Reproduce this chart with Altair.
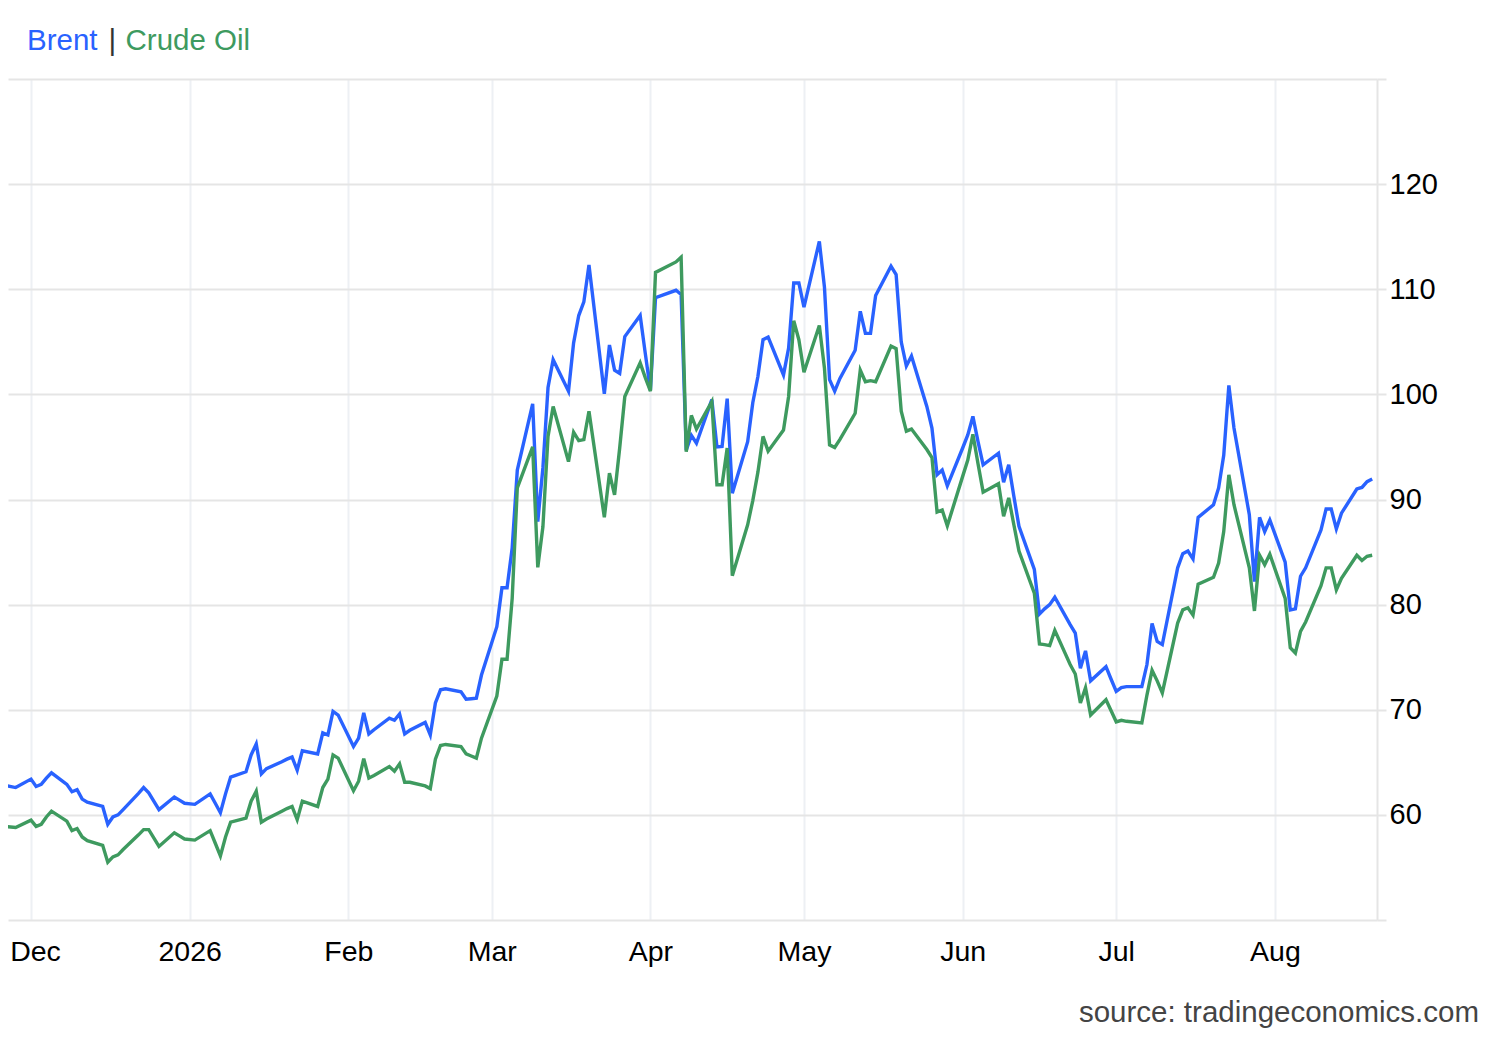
import altair as alt
import pandas as pd

# ---------------- data ----------------
DATES = [
    "2025-11-24", "2025-11-25", "2025-11-26", "2025-11-28",
    "2025-12-01", "2025-12-02", "2025-12-03", "2025-12-04", "2025-12-05",
    "2025-12-08", "2025-12-09", "2025-12-10", "2025-12-11", "2025-12-12",
    "2025-12-15", "2025-12-16", "2025-12-17", "2025-12-18", "2025-12-19",
    "2025-12-22", "2025-12-23", "2025-12-24", "2025-12-26",
    "2025-12-29", "2025-12-30", "2025-12-31", "2026-01-02",
    "2026-01-05", "2026-01-06", "2026-01-07", "2026-01-08", "2026-01-09",
    "2026-01-12", "2026-01-13", "2026-01-14", "2026-01-15", "2026-01-16",
    "2026-01-19", "2026-01-20", "2026-01-21", "2026-01-22", "2026-01-23",
    "2026-01-26", "2026-01-27", "2026-01-28", "2026-01-29", "2026-01-30",
    "2026-02-02", "2026-02-03", "2026-02-04", "2026-02-05", "2026-02-06",
    "2026-02-09", "2026-02-10", "2026-02-11", "2026-02-12", "2026-02-13",
    "2026-02-16", "2026-02-17", "2026-02-18", "2026-02-19", "2026-02-20",
    "2026-02-23", "2026-02-24", "2026-02-25", "2026-02-26", "2026-02-27",
    "2026-03-02", "2026-03-03", "2026-03-04", "2026-03-05", "2026-03-06",
    "2026-03-09", "2026-03-10", "2026-03-11", "2026-03-12", "2026-03-13",
    "2026-03-16", "2026-03-17", "2026-03-18", "2026-03-19", "2026-03-20",
    "2026-03-23", "2026-03-24", "2026-03-25", "2026-03-26", "2026-03-27",
    "2026-03-30", "2026-03-31", "2026-04-01", "2026-04-02",
    "2026-04-06", "2026-04-07", "2026-04-08", "2026-04-09", "2026-04-10",
    "2026-04-13", "2026-04-14", "2026-04-15", "2026-04-16", "2026-04-17",
    "2026-04-20", "2026-04-21", "2026-04-22", "2026-04-23", "2026-04-24",
    "2026-04-27", "2026-04-28", "2026-04-29", "2026-04-30", "2026-05-01",
    "2026-05-04", "2026-05-05", "2026-05-06", "2026-05-07", "2026-05-08",
    "2026-05-11", "2026-05-12", "2026-05-13", "2026-05-14", "2026-05-15",
    "2026-05-18", "2026-05-19", "2026-05-20", "2026-05-21", "2026-05-22",
    "2026-05-25", "2026-05-26", "2026-05-27", "2026-05-28", "2026-05-29",
    "2026-06-01", "2026-06-02", "2026-06-03", "2026-06-04", "2026-06-05",
    "2026-06-08", "2026-06-09", "2026-06-10", "2026-06-11", "2026-06-12",
    "2026-06-15", "2026-06-16", "2026-06-17", "2026-06-18", "2026-06-19",
    "2026-06-22", "2026-06-23", "2026-06-24", "2026-06-25", "2026-06-26",
    "2026-06-29", "2026-06-30", "2026-07-01", "2026-07-02", "2026-07-03",
    "2026-07-06", "2026-07-07", "2026-07-08", "2026-07-09", "2026-07-10",
    "2026-07-13", "2026-07-14", "2026-07-15", "2026-07-16", "2026-07-17",
    "2026-07-20", "2026-07-21", "2026-07-22", "2026-07-23", "2026-07-24",
    "2026-07-27", "2026-07-28", "2026-07-29", "2026-07-30", "2026-07-31",
    "2026-08-03", "2026-08-04", "2026-08-05", "2026-08-06", "2026-08-07",
    "2026-08-10", "2026-08-11", "2026-08-12", "2026-08-13", "2026-08-14",
    "2026-08-17", "2026-08-18", "2026-08-19", "2026-08-20",
]

BRENT = [
    62.3, 61.9, 62.8, 62.6,
    63.4, 62.7, 62.9, 63.5, 64.0,
    62.9, 62.2, 62.4, 61.5, 61.2,
    60.8, 59.1, 59.8, 60.0, 60.5,
    62.05, 62.6, 62.1, 60.5,
    61.7, 61.4, 61.1, 61.0,
    62.0, 61.1, 60.2, 62.0, 63.6,
    64.1, 65.7, 66.75, 63.9, 64.4,
    65.05, 65.3, 65.5, 64.25, 66.1,
    65.8, 67.8, 67.6, 69.85, 69.5,
    66.5, 67.3, 69.7, 67.7, 68.1,
    69.2, 69.0, 69.6, 67.7, 68.05,
    68.8, 67.6, 70.65, 71.9, 72.0,
    71.7, 71.0, 71.05, 71.1, 73.3,
    77.9, 81.6, 81.6, 85.4, 92.8,
    99.1, 87.9, 93.0, 100.65, 103.3,
    100.3, 104.9, 107.5, 108.8, 112.3,
    100.05, 104.7, 102.3, 102.0, 105.5,
    107.5, 103.9, 100.4, 109.2,
    109.9, 109.5, 94.7, 96.1, 95.35,
    99.5, 95.0, 95.05, 99.6, 90.6,
    95.5, 99.2, 101.7, 105.2, 105.45,
    101.85, 104.4, 110.6, 110.6, 108.3,
    114.55, 110.2, 101.4, 100.3, 101.5,
    104.2, 107.9, 105.8, 105.8, 109.4,
    112.2, 111.4, 105.0, 102.7, 103.65,
    98.85, 96.8, 92.35, 92.8, 91.3,
    94.9, 96.15, 97.9, 95.5, 93.3,
    94.4, 91.65, 93.3, 90.3, 87.45,
    83.35, 79.1, 79.6, 80.0, 80.7,
    78.1, 77.3, 73.95, 75.6, 72.75,
    74.1, 72.9, 71.75, 72.1, 72.2,
    72.2, 74.3, 78.2, 76.5, 76.2,
    83.5, 84.85, 85.1, 84.35, 88.3,
    89.5, 91.1, 94.2, 100.85, 96.8,
    88.55, 82.2, 88.3, 86.95, 88.05,
    84.05, 79.5, 79.6, 82.7, 83.5,
    87.1, 89.1, 89.1, 87.2, 88.7,
    91.0, 91.15, 91.7, 91.95,
]

CRUDE = [
    58.6, 58.2, 58.9, 58.8,
    59.5, 58.9, 59.1, 59.8, 60.35,
    59.4, 58.5, 58.7, 57.9, 57.55,
    57.1, 55.5, 56.0, 56.2, 56.7,
    58.1, 58.6, 58.6, 57.0,
    58.3, 58.0, 57.7, 57.6,
    58.5, 57.3, 56.1, 57.9, 59.3,
    59.7, 61.3, 62.25, 59.3, 59.6,
    60.35, 60.6, 60.8, 59.55, 61.3,
    60.8, 62.6, 63.4, 65.7, 65.4,
    62.3, 63.2, 65.35, 63.5, 63.75,
    64.6, 64.15, 64.85, 63.1, 63.1,
    62.75, 62.5, 65.3, 66.6, 66.7,
    66.5, 65.8, 65.6, 65.4, 67.3,
    71.3, 74.8, 74.8, 80.6, 91.1,
    95.0, 83.55, 87.4, 96.0, 98.85,
    93.6, 96.4, 95.6, 95.7, 98.4,
    88.3, 92.5, 90.45, 94.9, 99.8,
    103.0, 101.6, 100.3, 111.6,
    112.6, 113.05, 94.55, 98.0, 96.7,
    99.3, 91.4, 91.4, 94.9, 82.75,
    87.6, 89.9, 92.6, 96.0, 94.6,
    96.6, 99.8, 107.0, 105.2, 102.1,
    106.55, 102.5, 95.2, 94.95, 95.7,
    98.2, 102.3, 101.2, 101.3, 101.2,
    104.6, 104.35, 98.4, 96.5, 96.7,
    94.75, 94.0, 88.8, 89.0, 87.5,
    92.2, 93.75, 96.2, 93.4, 90.7,
    91.5, 88.4, 90.15, 87.6, 85.1,
    81.1, 76.25, 76.2, 76.1, 77.55,
    74.3, 73.4, 70.65, 72.1, 69.5,
    70.95, 69.9, 68.85, 69.0, 68.9,
    68.75, 71.4, 73.75, 72.75, 71.6,
    78.25, 79.5, 79.7, 79.0, 81.95,
    82.6, 83.95, 86.95, 92.35, 89.5,
    83.5, 79.4, 84.7, 83.8, 84.8,
    80.6, 75.9, 75.4, 77.45, 78.35,
    81.8, 83.5, 83.5, 81.4, 82.5,
    84.7, 84.2, 84.6, 84.7,
]

SERIES = ["Brent", "Crude Oil"]
COLORS = ["#2962ff", "#3e9a5f"]
MONTH_TICKS = ["2025-12-01", "2026-01-01", "2026-02-01", "2026-03-01", "2026-04-01",
               "2026-05-01", "2026-06-01", "2026-07-01", "2026-08-01"]
Y_TICKS = [50, 60, 70, 80, 90, 100, 110, 120, 130]
Y_DOMAIN = [50, 130]
X_DOMAIN = ["2025-11-26T12:10:00", "2026-08-20T22:34:00"]
SOURCE = "source: tradingeconomics.com"

FONT = "Liberation Sans"


def ms(s):
    return int(pd.Timestamp(s, tz="UTC").value // 10**6)


df = pd.DataFrame({
    "date": DATES * 2,
    "value": BRENT + CRUDE,
    "series": [SERIES[0]] * len(DATES) + [SERIES[1]] * len(DATES),
})

x_enc = alt.X(
    "date:T",
    scale=alt.Scale(type="utc", domain=[ms(X_DOMAIN[0]), ms(X_DOMAIN[1])], nice=False),
    axis=alt.Axis(
        values=[ms(t) for t in MONTH_TICKS],
        labelExpr="utcFormat(datum.value, '%m') == '01' ? utcFormat(datum.value, '%Y') : utcFormat(datum.value, '%b')",
        labelOffset={"condition": {"test": "utcmonth(datum.value) == 11", "value": 4}, "value": 0},
        title=None,
        grid=True,
        gridColor="#edf0f4",
        gridWidth=2,
        domain=False,
        ticks=False,
        tickSize=0,
        labelPadding=17,
        labelFontSize=28.5,
        labelFont=FONT,
        labelColor="#000000",
        labelFlush=False,
        labelOverlap=False,
    ),
)

y_enc = alt.Y(
    "value:Q",
    scale=alt.Scale(domain=Y_DOMAIN, nice=False, zero=False),
    axis=alt.Axis(
        orient="right",
        values=Y_TICKS,
        labelExpr="datum.value < 55 || datum.value > 125 ? '' : datum.label",
        title=None,
        grid=True,
        gridColor="#e5e5e5",
        gridWidth=2,
        domain=True,
        domainColor="#e5e5e5",
        domainWidth=2,
        ticks=True,
        tickColor="#e5e5e5",
        tickWidth=2,
        tickSize=9,
        labelPadding=3,
        labelFontSize=29,
        labelFont=FONT,
        labelColor="#000000",
        labelFlush=False,
    ),
)

base = alt.Chart(df).encode(x=x_enc, y=y_enc)

brent_line = base.transform_filter(alt.datum.series == SERIES[0]).mark_line(
    color=COLORS[0], strokeWidth=3.4, clip=True
)
crude_line = base.transform_filter(alt.datum.series == SERIES[1]).mark_line(
    color=COLORS[1], strokeWidth=3.4, clip=True
)

t1 = alt.Chart(pd.DataFrame({"t": [SERIES[0]]})).mark_text(
    align="left", baseline="alphabetic", font=FONT, fontSize=29.5, color=COLORS[0]
).encode(text="t:N", x=alt.value(19), y=alt.value(-29))
t2 = alt.Chart(pd.DataFrame({"t": ["|"]})).mark_text(
    align="left", baseline="alphabetic", font=FONT, fontSize=29.5, color="#333333"
).encode(text="t:N", x=alt.value(100.5), y=alt.value(-29))
t3 = alt.Chart(pd.DataFrame({"t": [SERIES[1]]})).mark_text(
    align="left", baseline="alphabetic", font=FONT, fontSize=29.5, color=COLORS[1]
).encode(text="t:N", x=alt.value(117.5), y=alt.value(-29))
src = alt.Chart(pd.DataFrame({"t": [SOURCE]})).mark_text(
    align="right", baseline="alphabetic", font=FONT, fontSize=29.5, color="#444444"
).encode(text="t:N", x=alt.value(1471), y=alt.value(943))

chart = alt.layer(brent_line, crude_line, t1, t2, t3, src).properties(
    width=1369,
    height=841,
    autosize=alt.AutoSizeParams(type="none"),
    padding={"left": 0, "top": 71, "right": 115, "bottom": 108},
    background="#ffffff",
).configure_view(stroke=None)

chart.save("out.html", embed_options={"renderer": "svg", "actions": False})
